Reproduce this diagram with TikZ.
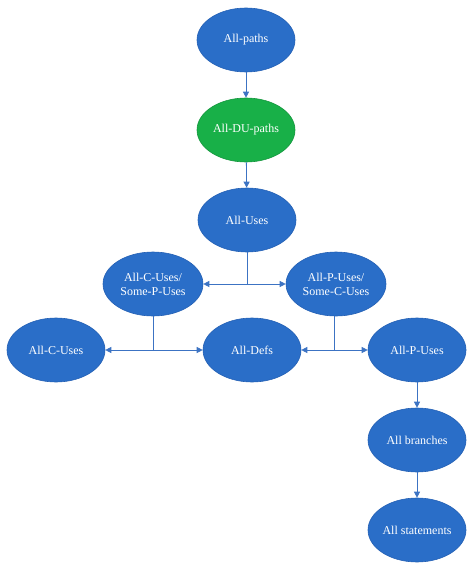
\documentclass[tikz,border=0pt]{standalone}
\usepackage{fontspec}
\setmainfont{Liberation Serif}
\usetikzlibrary{shapes.geometric,arrows.meta}
\definecolor{nodeblue}{RGB}{42,110,200}
\definecolor{edgeblue}{RGB}{36,96,180}
\definecolor{nodegreen}{RGB}{24,176,72}
\definecolor{lineblue}{RGB}{60,115,195}
\tikzset{
  oval/.style={ellipse, fill=nodeblue, draw=edgeblue, line width=0.6pt, minimum width=98pt, minimum height=64pt, inner sep=0pt, text=white, font=\fontsize{12}{14}\selectfont, align=center},
  greenoval/.style={oval, fill=nodegreen, draw=nodegreen!85!black},
  conn/.style={draw=lineblue, line width=0.8pt, -{Triangle[width=6pt,length=6pt]}},
  plain/.style={draw=lineblue, line width=0.8pt}
}
\begin{document}
\begin{tikzpicture}[x=1pt,y=-1pt]
\useasboundingbox (0,0) rectangle (474,567);
\node[oval] (paths) at (246,40) {All-paths};
\node[greenoval] (du) at (246,130) {All-DU-paths};
\node[oval] (uses) at (247,220) {All-Uses};
\node[oval, minimum width=100pt] (cu) at (153,284) {All-C-Uses/\\Some-P-Uses};
\node[oval, minimum width=100pt] (pu) at (336,284) {All-P-Uses/\\Some-C-Uses};
\node[oval] (acu) at (56,350) {All-C-Uses};
\node[oval] (defs) at (252,350) {All-Defs};
\node[oval] (apu) at (417,350) {All-P-Uses};
\node[oval] (br) at (417,440) {All branches};
\node[oval] (st) at (417,530) {All statements};
\coordinate (j1) at (uses.south |- cu.center);
\coordinate (j2) at (cu.south |- defs.center);
\coordinate (j3) at (334,350);
\draw[conn] (paths) -- (du);
\draw[conn] (du) -- (uses);
\draw[plain] (uses.south) -- (j1);
\draw[conn] (j1) -- (cu.east);
\draw[conn] (j1) -- (pu.west);
\draw[plain] (cu.south) -- (j2);
\draw[conn] (j2) -- (acu.east);
\draw[conn] (j2) -- (defs.west);
\draw[plain] (pu.south -| j3) -- (j3);
\draw[conn] (j3) -- (defs.east);
\draw[conn] (j3) -- (apu.west);
\draw[conn] (apu) -- (br);
\draw[conn] (br) -- (st);
\end{tikzpicture}
\end{document}
